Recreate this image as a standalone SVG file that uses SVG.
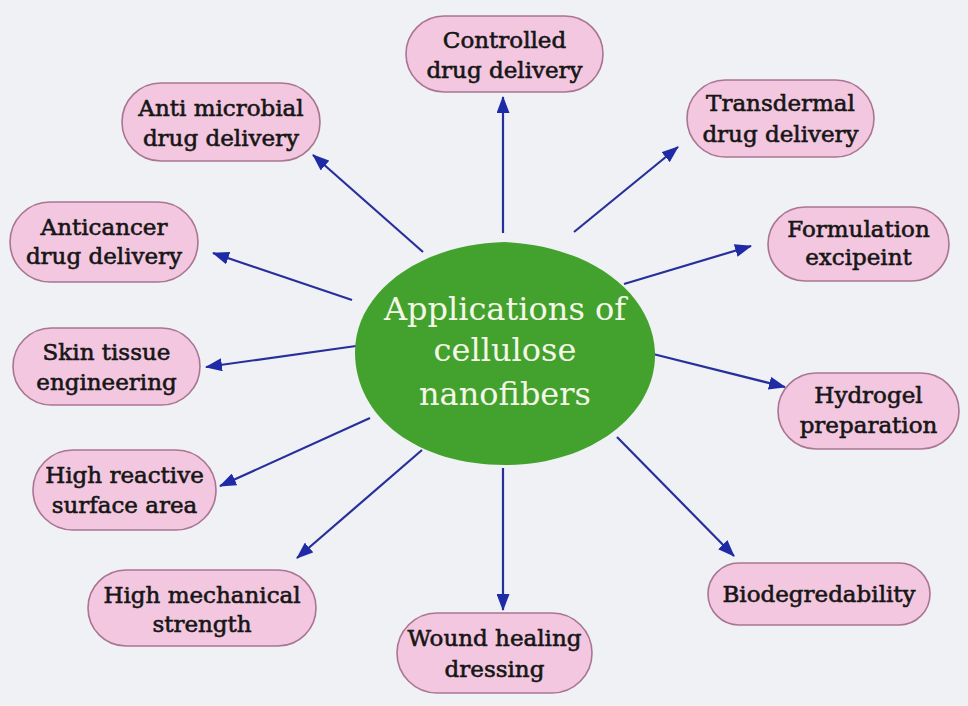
<svg xmlns="http://www.w3.org/2000/svg" width="968" height="706" viewBox="0 0 968 706">
<defs>
<style>
.pill{fill:#f3c7df;stroke:#a97592;stroke-width:1.6}
.t{font-family:"DejaVu Serif","Liberation Serif",serif;font-size:23px;fill:#161616;stroke:#161616;stroke-width:0.6;text-anchor:middle}
.c{font-family:"DejaVu Serif","Liberation Serif",serif;font-size:32px;fill:#f4f7e8;text-anchor:middle}
.a{stroke:#27309a;stroke-width:2.2;fill:none;marker-end:url(#ah)}
</style>
<marker id="ah" viewBox="0 0 17 13" refX="16" refY="6.5" markerWidth="17" markerHeight="13" markerUnits="userSpaceOnUse" orient="auto">
<path d="M0,0 L17,6.5 L0,13 Z" fill="#1f2aa6"/>
</marker>
</defs>
<rect width="968" height="706" fill="#eff1f4"/>
<g id="connectors">
<line class="a" x1="503" y1="233" x2="503" y2="97"/>
<line class="a" x1="423" y1="252" x2="313" y2="155"/>
<line class="a" x1="574" y1="232" x2="678" y2="147"/>
<line class="a" x1="352" y1="300" x2="213" y2="253"/>
<line class="a" x1="624" y1="284" x2="751" y2="246"/>
<line class="a" x1="356" y1="346" x2="206" y2="367"/>
<line class="a" x1="653" y1="354" x2="785" y2="387"/>
<line class="a" x1="370" y1="418" x2="220" y2="486"/>
<line class="a" x1="617" y1="437" x2="734" y2="556"/>
<line class="a" x1="422" y1="450" x2="297" y2="558"/>
<line class="a" x1="503" y1="468" x2="503" y2="610"/>
</g>
<g id="center">
<path d="M505,242 C590,246 652,292 655,352 C657,415 590,465 505,465 C418,465 355,418 355,352 C355,292 420,244 505,242 Z" fill="#43a22d"/>
<text class="c" x="505" y="320">Applications of</text>
<text class="c" x="505" y="361">cellulose</text>
<text class="c" x="505" y="405">nanofibers</text>
</g>
<g id="n-controlled">
<rect class="pill" x="406" y="16" width="197" height="76" rx="38"/>
<text class="t" x="504.5" y="48">Controlled</text>
<text class="t" x="504.5" y="78">drug delivery</text>
</g>
<g id="n-antimicrobial">
<rect class="pill" x="122" y="83" width="198" height="78" rx="39"/>
<text class="t" x="221" y="116">Anti microbial</text>
<text class="t" x="221" y="146">drug delivery</text>
</g>
<g id="n-transdermal">
<rect class="pill" x="687" y="80" width="187" height="77" rx="38.5"/>
<text class="t" x="780.5" y="111">Transdermal</text>
<text class="t" x="780.5" y="142">drug delivery</text>
</g>
<g id="n-anticancer">
<rect class="pill" x="10" y="202" width="188" height="80" rx="40"/>
<text class="t" x="104" y="235">Anticancer</text>
<text class="t" x="104" y="264">drug delivery</text>
</g>
<g id="n-formulation">
<rect class="pill" x="768" y="207" width="181" height="74" rx="37"/>
<text class="t" x="858.5" y="237">Formulation</text>
<text class="t" x="858.5" y="265">excipeint</text>
</g>
<g id="n-skin">
<rect class="pill" x="13" y="328" width="187" height="77" rx="38.5"/>
<text class="t" x="106.5" y="360">Skin tissue</text>
<text class="t" x="106.5" y="390">engineering</text>
</g>
<g id="n-hydrogel">
<rect class="pill" x="778" y="373" width="181" height="76" rx="38"/>
<text class="t" x="868.5" y="403">Hydrogel</text>
<text class="t" x="868.5" y="433">preparation</text>
</g>
<g id="n-reactive">
<rect class="pill" x="33" y="450" width="183" height="80" rx="40"/>
<text class="t" x="124.5" y="483">High reactive</text>
<text class="t" x="124.5" y="513">surface area</text>
</g>
<g id="n-biodeg">
<rect class="pill" x="708" y="563" width="222" height="62" rx="31"/>
<text class="t" x="819" y="602">Biodegredability</text>
</g>
<g id="n-mechanical">
<rect class="pill" x="88" y="570" width="228" height="76" rx="38"/>
<text class="t" x="202" y="603">High mechanical</text>
<text class="t" x="202" y="632">strength</text>
</g>
<g id="n-wound">
<rect class="pill" x="397" y="613" width="195" height="80" rx="40"/>
<text class="t" x="494.5" y="646">Wound healing</text>
<text class="t" x="494.5" y="677">dressing</text>
</g>
</svg>
